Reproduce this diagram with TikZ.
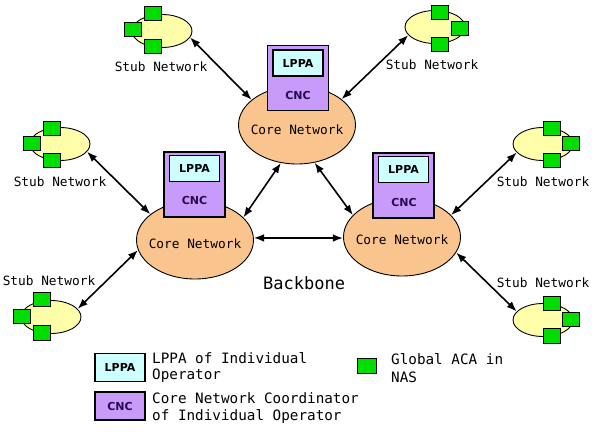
\documentclass[tikz,border=0pt]{standalone}
\usepackage{fontspec}
\newfontfamily\monofnt{DejaVu Sans Mono}
\newfontfamily\sansfnt{DejaVu Sans}
\usetikzlibrary{arrows.meta,shapes.geometric}
\definecolor{corefill}{RGB}{250,196,142}
\definecolor{stubfill}{RGB}{255,255,170}
\definecolor{acagreen}{RGB}{0,222,0}
\definecolor{cncfill}{RGB}{200,155,250}
\definecolor{lppafill}{RGB}{205,255,255}
\definecolor{cnctext}{RGB}{40,10,80}
\begin{document}
\begin{tikzpicture}[x=1pt,y=-1pt,
  core/.style={ellipse,draw,fill=corefill,line width=0.9pt,minimum width=117pt,minimum height=78pt,inner sep=0pt},
  stub/.style={ellipse,draw,fill=stubfill,line width=0.9pt,minimum width=60pt,minimum height=33pt,inner sep=0pt},
  aca/.style={rectangle,draw,fill=acagreen,line width=1pt,minimum width=17pt,minimum height=14pt,inner sep=0pt},
  cncbox/.style={rectangle,draw,fill=cncfill,line width=1.4pt,minimum width=61pt,minimum height=65pt,inner sep=0pt},
  lppabox/.style={rectangle,draw,fill=lppafill,line width=1.4pt,minimum width=50pt,minimum height=26pt,inner sep=0pt,font=\sansfnt\bfseries\fontsize{11}{13}\selectfont},
  cnclabel/.style={font=\sansfnt\bfseries\fontsize{11}{13}\selectfont,text=cnctext,inner sep=0pt},
  netlabel/.style={font=\monofnt\fontsize{12.8}{14}\selectfont,inner sep=0pt},
  legtext/.style={font=\monofnt\fontsize{14.3}{17}\selectfont,anchor=base west,inner sep=0pt},
  link/.style={{Latex}-{Latex},line width=1.6pt}
]
\useasboundingbox[fill=white] (0,0) rectangle (598,433);

% core networks
\node[core] (C1) at (297,125) {};
\node[netlabel] (C1t) at (297,130) {Core Network};
\node[cncbox] (B1) at (298,78) {};
\node[lppabox] (L1) at (298,63) {LPPA};
\node[cnclabel] (N1) at (298,95) {CNC};

\node[core] (C2) at (195,240) {};
\node[netlabel] (C2t) at (195,244) {Core Network};
\node[cncbox] (B2) at (194.5,184.5) {};
\node[lppabox] (L2) at (194.5,168.5) {LPPA};
\node[cnclabel] (N2) at (194.5,200) {CNC};

\node[core] (C3) at (402,237) {};
\node[netlabel] (C3t) at (402,240) {Core Network};
\node[cncbox] (B3) at (403.5,185.5) {};
\node[lppabox] (L3) at (403.5,169.5) {LPPA};
\node[cnclabel] (N3) at (404,202) {CNC};

% stub networks
\node[stub] (S1) at (162,31) {};
\node[aca] (S1a) at (153,14) {};
\node[aca] (S1b) at (133,30) {};
\node[aca] (S1c) at (153,47) {};
\node[netlabel] (S1t) at (161,67) {Stub Network};

\node[stub] (S2) at (435,27) {};
\node[aca] (S2a) at (440,13) {};
\node[aca] (S2b) at (460,29) {};
\node[aca] (S2c) at (440,45) {};
\node[netlabel] (S2t) at (432,65) {Stub Network};

\node[stub] (S3) at (60,144) {};
\node[aca] (S3a) at (52,129) {};
\node[aca] (S3b) at (32,144) {};
\node[aca] (S3c) at (52,161) {};
\node[netlabel] (S3t) at (60,182) {Stub Network};

\node[stub] (S4) at (51,317) {};
\node[aca] (S4a) at (42,300) {};
\node[aca] (S4b) at (22,317) {};
\node[aca] (S4c) at (42,333) {};
\node[netlabel] (S4t) at (49,281) {Stub Network};

\node[stub] (S5) at (543,144) {};
\node[aca] (S5a) at (552,129) {};
\node[aca] (S5b) at (571,144) {};
\node[aca] (S5c) at (552,161) {};
\node[netlabel] (S5t) at (543,182) {Stub Network};

\node[stub] (S6) at (543,320) {};
\node[aca] (S6a) at (552,304) {};
\node[aca] (S6b) at (571,320) {};
\node[aca] (S6c) at (552,336) {};
\node[netlabel] (S6t) at (543,283) {Stub Network};

% links
\draw[link] (S1.347) -- (C1.151);
\draw[link] (S2.197) -- (C1.30);
\draw[link] (C1.247) -- (C2.25);
\draw[link] (C1.295) -- (C3.156);
\draw[link] (C2.2) -- (C3.181);
\draw[link] (S3.344) -- (C2.150);
\draw[link] (S4.17) -- (C2.190);
\draw[link] (S5.198) -- (C3.24);
\draw[link] (S6.162) -- (C3.344);

\node[font=\monofnt\fontsize{17}{20}\selectfont,anchor=base west,inner sep=0pt] (BB) at (263,290) {Backbone};

% legend
\node[lppabox,minimum width=50pt,minimum height=28pt] (LL) at (120,367.5) {LPPA};
\node[rectangle,draw,fill=cncfill,line width=1.4pt,minimum width=50pt,minimum height=28pt,inner sep=0pt,font=\sansfnt\bfseries\fontsize{11}{13}\selectfont,text=cnctext] (LC) at (120,406) {CNC};
\node[aca,minimum width=19pt,minimum height=15pt] (LG) at (366.5,365.5) {};
\node[legtext] (T1) at (152,363) {LPPA of Individual};
\node[legtext] (T2) at (152,379) {Operator};
\node[legtext] (T3) at (152,403) {Core Network Coordinator};
\node[legtext] (T4) at (152,420) {of Individual Operator};
\node[legtext] (T5) at (391,364) {Global ACA in};
\node[legtext] (T6) at (391,382) {NAS};
\end{tikzpicture}
\end{document}
